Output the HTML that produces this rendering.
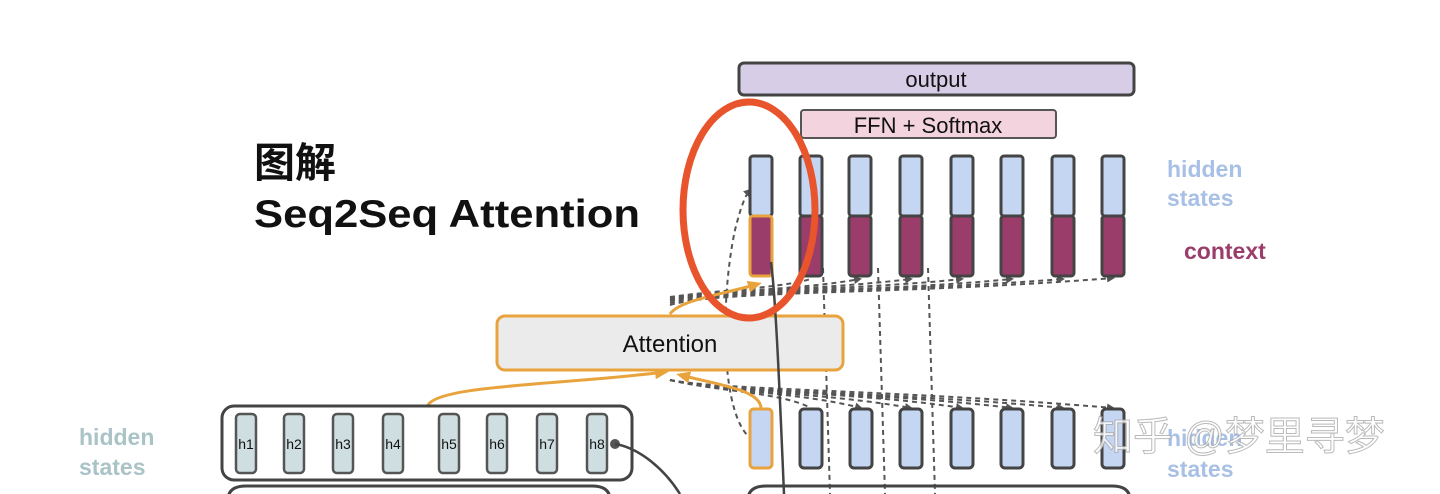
<!DOCTYPE html>
<html><head><meta charset="utf-8"><style>
html,body{margin:0;padding:0;background:#fff;width:1440px;height:494px;overflow:hidden}
svg text{font-family:"Liberation Sans","Noto Sans CJK SC",sans-serif}
</style></head><body>
<svg width="1440" height="494" viewBox="0 0 1440 494" xmlns="http://www.w3.org/2000/svg">
<defs>
<marker id="ad" markerWidth="8" markerHeight="8" refX="6" refY="4" orient="auto" markerUnits="userSpaceOnUse"><path d="M0,0 L8,4 L0,8z" fill="#555"/></marker>
<marker id="ao" markerWidth="14" markerHeight="12" refX="10" refY="6" orient="auto" markerUnits="userSpaceOnUse"><path d="M0,0 L14,6 L0,12z" fill="#e8a33c"/></marker>
</defs>
<text x="254" y="177" font-size="41" font-weight="bold" fill="#111">图解</text>
<text x="254" y="227" font-size="39" font-weight="bold" fill="#111" textLength="386" lengthAdjust="spacingAndGlyphs">Seq2Seq Attention</text>
<rect x="739" y="63" width="395" height="32" rx="5" fill="#d8cde6" stroke="#444" stroke-width="3"/>
<text x="936" y="87" font-size="22" text-anchor="middle" fill="#111">output</text>
<rect x="801" y="110" width="255" height="28" rx="3" fill="#f2d3de" stroke="#555" stroke-width="2"/>
<text x="928" y="133" font-size="22" text-anchor="middle" fill="#111">FFN + Softmax</text>
<g fill="none" stroke="#555" stroke-width="2" stroke-dasharray="5,4">
<path d="M670,305 C720,290 900,295 1113,278" marker-end="url(#ad)"/>
<path d="M670,303 C720,290 900,292 1063,279" marker-end="url(#ad)"/>
<path d="M670,301 C720,290 880,292 1012,279" marker-end="url(#ad)"/>
<path d="M670,300 C720,290 860,290 962,279" marker-end="url(#ad)"/>
<path d="M670,299 C720,290 820,290 911,279" marker-end="url(#ad)"/>
<path d="M670,298 C720,290 800,290 860,279" marker-end="url(#ad)"/>
<path d="M670,297 C720,290 780,288 811,279"/>
<path d="M670,380 C720,390 900,390 1113,408" marker-end="url(#ad)"/>
<path d="M670,380 C720,392 900,392 1063,408" marker-end="url(#ad)"/>
<path d="M670,380 C720,392 880,392 1012,408" marker-end="url(#ad)"/>
<path d="M670,380 C720,392 860,392 962,408" marker-end="url(#ad)"/>
<path d="M670,380 C720,392 820,392 911,408" marker-end="url(#ad)"/>
<path d="M670,380 C720,392 800,392 861,408" marker-end="url(#ad)"/>
<path d="M670,380 C720,392 780,392 811,408"/>
<path d="M753,440 C720,420 720,300 735,230 C740,210 745,195 750,190" marker-end="url(#ad)"/>
<path d="M823,268 L830,494"/>
<path d="M878,268 L885,494"/>
<path d="M928,268 L935,494"/>
</g>
<g fill="none" stroke="#e8a33c" stroke-width="3">
<path d="M428,405 C440,385 560,385 665,372" marker-end="url(#ao)"/>
<path d="M761,408 C760,390 720,385 680,375" marker-end="url(#ao)"/>
<path d="M670,314 C680,300 720,295 758,284" marker-end="url(#ao)"/>
</g>
<rect x="497" y="316" width="346" height="54" rx="8" fill="#ebebeb" stroke="#e8a33c" stroke-width="3"/>
<text x="670" y="352" font-size="24" text-anchor="middle" fill="#111">Attention</text>
<g stroke="#444" stroke-width="3">
<rect x="750" y="156" width="22" height="60" rx="3" fill="#c5d6f3"/>
<rect x="750" y="216" width="22" height="60" rx="3" fill="#9b3d6b" stroke="#e8a33c"/>
<rect x="800" y="156" width="22" height="60" rx="3" fill="#c5d6f3"/><rect x="800" y="216" width="22" height="60" rx="3" fill="#9b3d6b"/>
<rect x="849" y="156" width="22" height="60" rx="3" fill="#c5d6f3"/><rect x="849" y="216" width="22" height="60" rx="3" fill="#9b3d6b"/>
<rect x="900" y="156" width="22" height="60" rx="3" fill="#c5d6f3"/><rect x="900" y="216" width="22" height="60" rx="3" fill="#9b3d6b"/>
<rect x="951" y="156" width="22" height="60" rx="3" fill="#c5d6f3"/><rect x="951" y="216" width="22" height="60" rx="3" fill="#9b3d6b"/>
<rect x="1001" y="156" width="22" height="60" rx="3" fill="#c5d6f3"/><rect x="1001" y="216" width="22" height="60" rx="3" fill="#9b3d6b"/>
<rect x="1052" y="156" width="22" height="60" rx="3" fill="#c5d6f3"/><rect x="1052" y="216" width="22" height="60" rx="3" fill="#9b3d6b"/>
<rect x="1102" y="156" width="22" height="60" rx="3" fill="#c5d6f3"/><rect x="1102" y="216" width="22" height="60" rx="3" fill="#9b3d6b"/>
</g>
<text x="1167" y="177" font-size="23" font-weight="bold" fill="#a9c0e6">hidden</text>
<text x="1167" y="206" font-size="23" font-weight="bold" fill="#a9c0e6">states</text>
<text x="1184" y="259" font-size="23" font-weight="bold" fill="#9b3d6b">context</text>
<g stroke="#444" stroke-width="3" fill="#c5d6f3">
<rect x="750" y="409" width="22" height="59" rx="4" stroke="#e8a33c"/>
<rect x="800" y="409" width="22" height="59" rx="4"/>
<rect x="850" y="409" width="22" height="59" rx="4"/>
<rect x="900" y="409" width="22" height="59" rx="4"/>
<rect x="951" y="409" width="22" height="59" rx="4"/>
<rect x="1001" y="409" width="22" height="59" rx="4"/>
<rect x="1052" y="409" width="22" height="59" rx="4"/>
<rect x="1102" y="409" width="22" height="59" rx="4"/>
</g>
<path d="M748,500 Q748,486 766,486 L1112,486 Q1130,486 1130,500" fill="none" stroke="#444" stroke-width="3"/>
<text x="1167" y="446" font-size="23" font-weight="bold" fill="#a9c0e6">hidden</text>
<text x="1167" y="477" font-size="23" font-weight="bold" fill="#a9c0e6">states</text>
<rect x="222" y="406" width="410" height="74" rx="12" fill="#fff" stroke="#444" stroke-width="3"/>
<path d="M228,500 Q228,486 246,486 L592,486 Q610,486 610,500" fill="none" stroke="#444" stroke-width="3"/>
<g stroke="#555" stroke-width="2.5" fill="#cfdfe1">
<rect x="236" y="414" width="20" height="59" rx="4"/>
<rect x="284" y="414" width="20" height="59" rx="4"/>
<rect x="333" y="414" width="20" height="59" rx="4"/>
<rect x="383" y="414" width="20" height="59" rx="4"/>
<rect x="439" y="414" width="20" height="59" rx="4"/>
<rect x="487" y="414" width="20" height="59" rx="4"/>
<rect x="537" y="414" width="20" height="59" rx="4"/>
<rect x="587" y="414" width="20" height="59" rx="4"/>
</g>
<g font-size="14" text-anchor="middle" fill="#111">
<text x="246" y="449">h1</text><text x="294" y="449">h2</text><text x="343" y="449">h3</text><text x="393" y="449">h4</text>
<text x="449" y="449">h5</text><text x="497" y="449">h6</text><text x="547" y="449">h7</text><text x="597" y="449">h8</text>
</g>
<circle cx="615" cy="444" r="5" fill="#555"/>
<path d="M615,444 C640,448 665,470 680,494" fill="none" stroke="#444" stroke-width="2.5"/>
<path d="M771,262 C776,300 780,400 784,494" fill="none" stroke="#444" stroke-width="2.5"/>
<text x="79" y="445" font-size="23" font-weight="bold" fill="#a9c3c6">hidden</text>
<text x="79" y="475" font-size="23" font-weight="bold" fill="#a9c3c6">states</text>
<ellipse cx="749" cy="210" rx="66" ry="108" fill="none" stroke="#e8542c" stroke-width="7"/>
<text x="1093" y="450" font-size="40" fill="#fff" stroke="#aaa" stroke-width="1" opacity="0.8">知乎 @梦里寻梦</text>
</svg>
</body></html>
